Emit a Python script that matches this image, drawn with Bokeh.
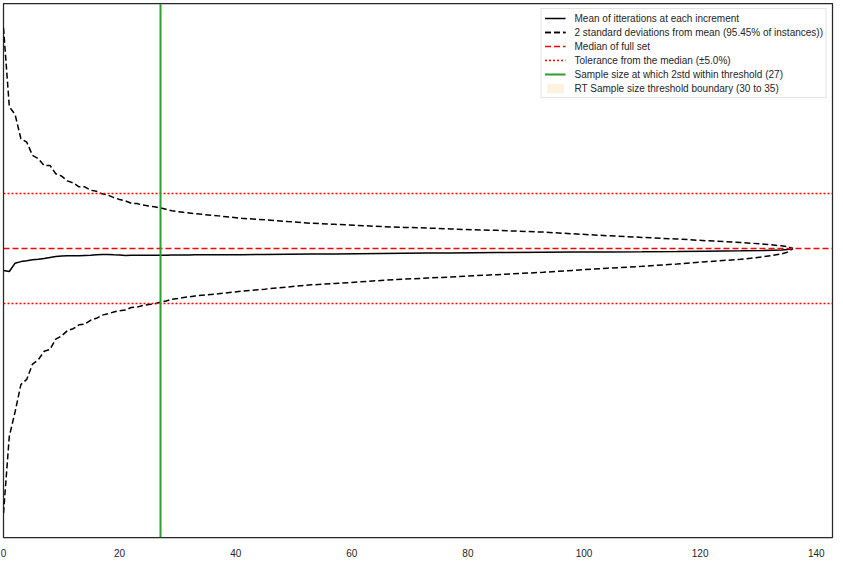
import numpy as np
from bokeh.plotting import figure
from bokeh.models import Range1d, Legend, LegendItem
from bokeh.embed import file_html
from bokeh.resources import INLINE

# ---------------- data ----------------
sample_sizes = [0, 1, 2, 3, 4, 5, 6, 7, 8, 9, 10, 11, 12, 13, 14, 15, 16, 17, 18, 19,
                20, 21, 22, 23, 24, 25, 26, 27, 28, 29, 30, 31, 32, 33,
                37, 41, 45, 49, 53, 57, 61, 65, 69, 73, 77, 81, 85,
                93, 98, 104, 110, 116, 121, 127, 131, 134, 135, 136]

mean_vals = [98.00, 97.91, 98.67, 98.81, 98.89, 98.98, 99.03, 99.10, 99.19, 99.28,
             99.32, 99.34, 99.34, 99.34, 99.37, 99.39, 99.43, 99.46, 99.46, 99.43,
             99.41, 99.37, 99.38, 99.38, 99.39, 99.39, 99.39, 99.40, 99.40, 99.41,
             99.41, 99.42, 99.42, 99.43,
             99.43, 99.44, 99.46, 99.48, 99.50, 99.51, 99.53, 99.55, 99.57, 99.59,
             99.60, 99.62, 99.64,
             99.67, 99.68, 99.69, 99.70, 99.73, 99.76, 99.79, 99.83, 99.88, 99.92, 100.00]

two_sd = [22.13, 15.03, 13.55, 11.20, 10.82, 9.51, 9.17, 8.47, 8.39, 7.54,
          7.29, 6.83, 6.65, 6.29, 6.26, 5.93, 5.79, 5.53, 5.41, 5.21,
          5.07, 4.97, 4.75, 4.72, 4.58, 4.50, 4.42, 4.30, 4.18, 4.03,
          3.96, 3.88, 3.82, 3.75,
          3.55, 3.32, 3.16, 2.98, 2.81, 2.70, 2.58, 2.46, 2.36, 2.28,
          2.19, 2.09, 2.02,
          1.83, 1.67, 1.48, 1.32, 1.14, 0.96, 0.77, 0.57, 0.37, 0.25, 0.00]

median_full = 100.0
tolerance = 0.05
threshold_n = 27
rt_boundary = [30, 35]
x_ticks = [0, 20, 40, 60, 80, 100, 120, 140]

# ---------------- derived series ----------------
x = np.array(sample_sizes, dtype=float)
m = np.array(mean_vals)
s = np.array(two_sd)
upper = m + s
lower = m - s

lo, hi = lower.min(), upper.max()
pad = 0.05 * (hi - lo)
xmax = x.max() * 1.05

FONT = "Liberation Sans"
TXT = "#262626"

p = figure(width=835, height=559, output_backend="svg", toolbar_location=None,
           x_range=Range1d(0, xmax), y_range=Range1d(lo - pad, hi + pad),
           y_axis_location=None,
           min_border_left=3, min_border_right=3, min_border_top=3,
           min_border_bottom=19)
p.grid.visible = False
p.outline_line_color = TXT
p.outline_line_width = 1.25
p.background_fill_color = "white"

r_mean = p.line(x, m, line_color="black", line_width=1.5)
r_up = p.line(x, upper, line_color="black", line_width=1.5, line_dash="6 3")
r_lo = p.line(x, lower, line_color="black", line_width=1.5, line_dash="6 3")
r_med = p.hspan(y=[median_full], line_color="red", line_width=1.5, line_dash="6 3")
r_tol = p.hspan(y=[median_full * (1 - tolerance), median_full * (1 + tolerance)],
                line_color="red", line_width=1.5, line_dash="2 2")
# the boundary band is listed in the legend but does not show in the plot area
r_strip = p.vstrip(x0=[rt_boundary[0]], x1=[rt_boundary[1]], fill_color="#fdf1df",
                   line_color=None, visible=False)
r_n = p.vspan(x=[threshold_n], line_color="#2e9e2e", line_width=2)

items = [
    LegendItem(label="Mean of itterations at each increment", renderers=[r_mean]),
    LegendItem(label="2 standard deviations from mean (95.45% of instances))",
               renderers=[r_up, r_lo]),
    LegendItem(label="Median of full set", renderers=[r_med]),
    LegendItem(label="Tolerance from the median (\u00b1%.1f%%)" % (tolerance * 100),
               renderers=[r_tol]),
    LegendItem(label="Sample size at which 2std within threshold (%d)" % threshold_n,
               renderers=[r_n]),
    LegendItem(label="RT Sample size threshold boundary (%d to %d)" % tuple(rt_boundary),
               renderers=[r_strip]),
]
legend = Legend(items=items, location="top_right")
legend.label_text_font = FONT
legend.label_text_font_size = "10px"
legend.label_text_color = TXT
legend.label_height = 12
legend.glyph_height = 12
legend.glyph_width = 21
legend.spacing = 2
legend.padding = 3
legend.margin = 5
legend.label_standoff = 9
legend.border_line_color = "#cccccc"
legend.border_line_width = 1
legend.background_fill_alpha = 0.8
p.add_layout(legend)

ax = p.xaxis[0]
ax.ticker = x_ticks
ax.axis_line_color = None
ax.major_tick_line_color = None
ax.minor_tick_line_color = None
ax.major_label_standoff = 5
ax.major_label_text_font = FONT
ax.major_label_text_font_size = "10px"
ax.major_label_text_color = TXT

open("out.html", "w").write(file_html(p, INLINE))
